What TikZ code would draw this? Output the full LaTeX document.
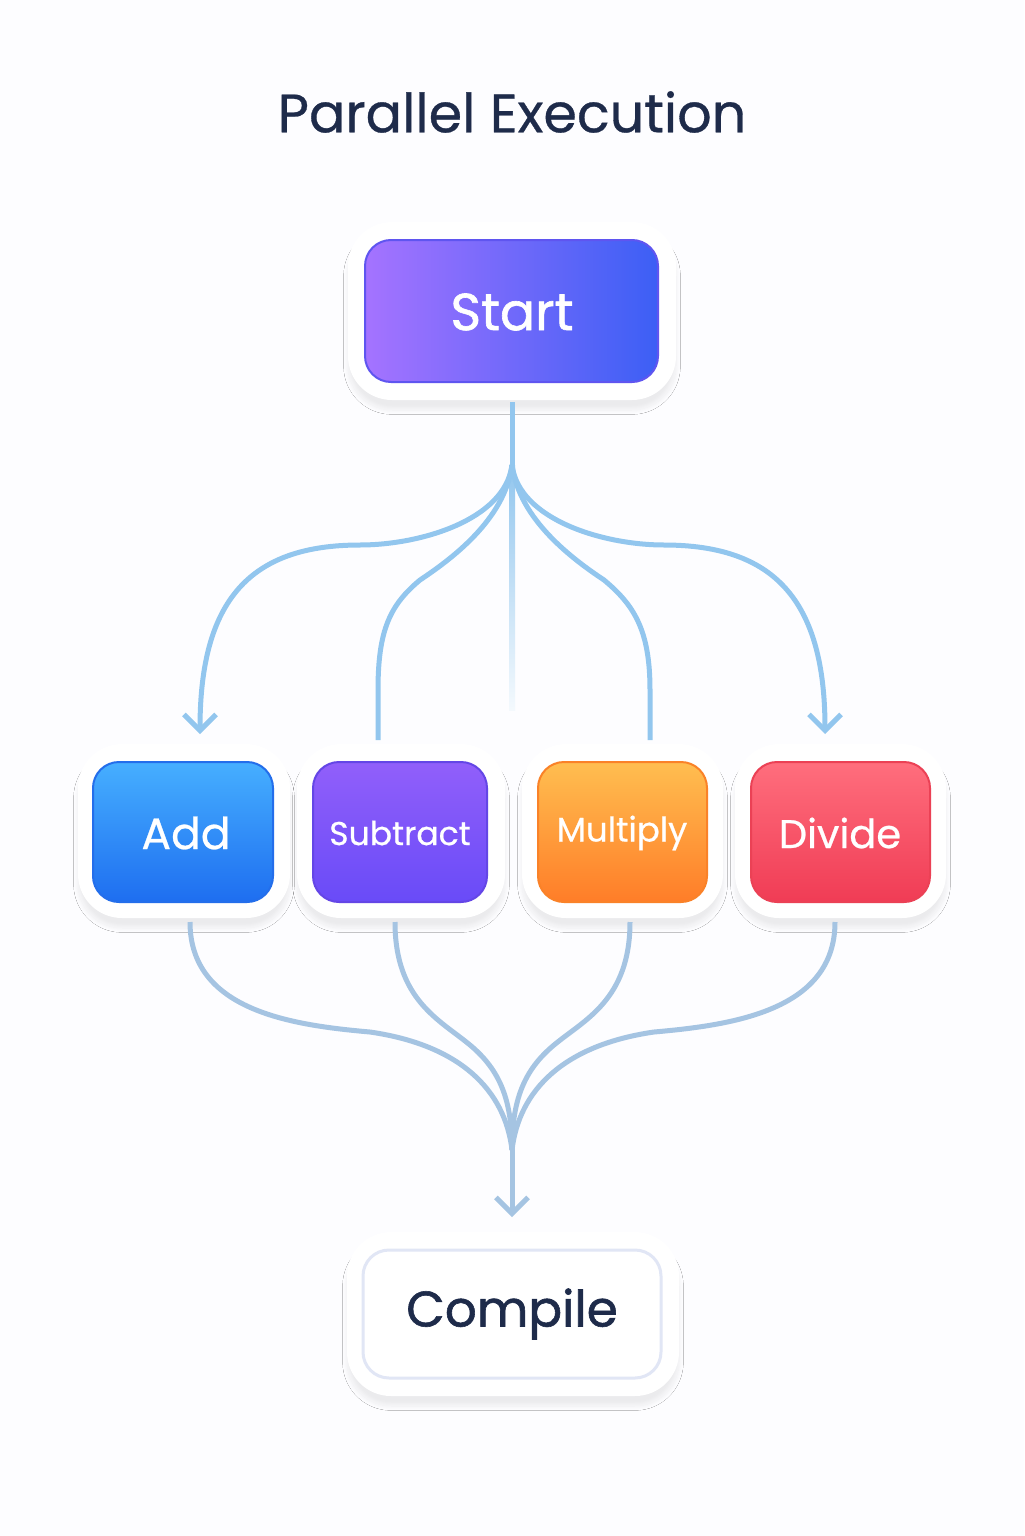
\documentclass[tikz,border=0pt]{standalone}
\usepackage{fontspec}
\setmainfont{Poppins}
\newfontfamily\med[FakeBold=1.2]{Poppins}
\newfontfamily\semi[FakeBold=0.6]{Poppins}
\usetikzlibrary{arrows.meta,shadows.blur}
\definecolor{title}{HTML}{1E2B4A}
\definecolor{link}{HTML}{92C6EE}
\definecolor{linkb}{HTML}{A5C4E2}
\tikzset{
 halo/.style={fill=white,rounded corners=22pt,draw=none,blur shadow={shadow blur steps=10,shadow xshift=0pt,shadow yshift=-5pt,shadow opacity=7,shadow scale=1.0}},
 box/.style={rounded corners=13pt,line width=1pt},
 lbl/.style={text=white},
 wire/.style={draw=link,line width=2.5pt},
 wireb/.style={draw=linkb,line width=2.5pt},
 tip/.style={-{Straight Barb[length=8pt,width=16pt,line width=2.5pt]}}
}
\begin{document}
\begin{tikzpicture}[x=0.5pt,y=-0.5pt]
\useasboundingbox (0,0) rectangle (1024,1536);
\fill[white!97!blue!30] (0,0) rectangle (1024,1536);
\node[text=title,font=\fontsize{27}{32}\semi] (title) at (512,112) {Parallel Execution};
% halos
\fill[halo] (348,222) rectangle (676,400);
\fill[halo] (78,744) rectangle (290,918);
\fill[halo] (297,744) rectangle (505,918);
\fill[halo] (522,744) rectangle (723,918);
\fill[halo] (735,744) rectangle (946,918);
\fill[halo] (347,1232) rectangle (679,1396);
% boxes
\path[box,shade,left color={rgb,255:red,165;green,115;blue,255},right color={rgb,255:red,60;green,95;blue,245},draw={rgb,255:red,95;green,85;blue,240}] (365,240) rectangle (658,382);
\node[lbl,font=\fontsize{26}{30}\med] (start) at (512,312) {Start};
\path[box,shade,top color={rgb,255:red,70;green,175;blue,255},bottom color={rgb,255:red,30;green,110;blue,240},draw={rgb,255:red,35;green,110;blue,235}] (93,762) rectangle (273,902);
\node[lbl,font=\fontsize{22}{26}\semi] (add) at (186,833) {Add};
\path[box,shade,top color={rgb,255:red,145;green,95;blue,250},bottom color={rgb,255:red,105;green,75;blue,248},draw={rgb,255:red,100;green,70;blue,230}] (313,762) rectangle (487,902);
\node[lbl,font=\fontsize{16.5}{20}\semi] (sub) at (400,833) {Subtract};
\path[box,shade,top color={rgb,255:red,255;green,190;blue,80},bottom color={rgb,255:red,255;green,125;blue,40},draw={rgb,255:red,250;green,130;blue,40}] (538,762) rectangle (707,902);
\node[lbl,font=\fontsize{17}{20}\semi] (mul) at (622,833) {Multiply};
\path[box,shade,top color={rgb,255:red,255;green,110;blue,125},bottom color={rgb,255:red,240;green,60;blue,85},draw={rgb,255:red,235;green,65;blue,85}] (751,762) rectangle (930,902);
\node[lbl,font=\fontsize{20}{25}\semi] (div) at (840,833) {Divide};
\path[box,fill=white,draw={rgb,255:red,225;green,230;blue,245},line width=1.5pt] (363,1250) rectangle (661,1378);
\node[text=title,font=\fontsize{25}{30}\med] (comp) at (512,1314) {Compile};
% top connectors
\coordinate (s0) at (512,402);
\coordinate (s1) at (512,465);
\draw[wire] (s0) -- (s1);
\shade[top color=link,bottom color=link!10] (509,465) rectangle (515,710);
\draw[wire,tip] (s1) .. controls (505,520) and (420,545) .. (360,545) .. controls (250,545) and (200,600) .. (200,734);
\draw[wire] (s1) .. controls (505,520) and (450,560) .. (420,580) .. controls (390,605) and (378,630) .. (378,690) -- (378,740);
\draw[wire] (s1) .. controls (519,520) and (574,560) .. (604,580) .. controls (634,605) and (650,630) .. (650,690) -- (650,740);
\draw[wire,tip] (s1) .. controls (519,520) and (604,545) .. (664,545) .. controls (774,545) and (825,600) .. (825,734);
% bottom connectors
\coordinate (e) at (512,1217);
\coordinate (e1) at (512,1150);
\draw[wireb] (190,922) .. controls (190,1010) and (290,1025) .. (370,1032) .. controls (460,1045) and (505,1090) .. (e1);
\draw[wireb] (395,922) .. controls (395,1000) and (440,1020) .. (470,1045) .. controls (500,1070) and (512,1100) .. (e1);
\draw[wireb] (630,922) .. controls (630,1000) and (584,1020) .. (554,1045) .. controls (524,1070) and (512,1100) .. (e1);
\draw[wireb] (835,922) .. controls (835,1010) and (734,1025) .. (654,1032) .. controls (564,1045) and (519,1090) .. (e1);
\draw[wireb,tip] (e1) -- (e);
\end{tikzpicture}
\end{document}
